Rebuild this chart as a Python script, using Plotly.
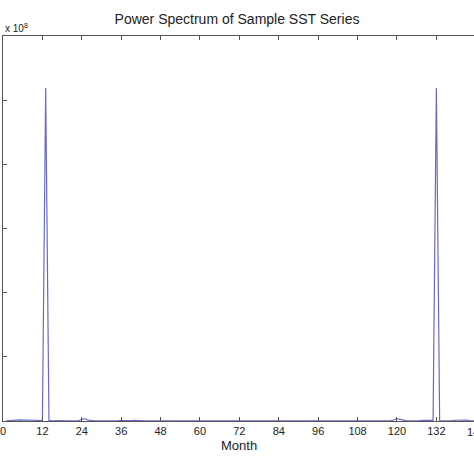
import plotly.graph_objects as go

# Month index (1..144) and spectral power in units of 1e8
months = list(range(1, 145))
power_e8 = [
    0.002, 0.003, 0.008, 0.015, 0.018, 0.016, 0.012, 0.006, 0.004, 0.003,
    0.004, 0.008, 5.19, 0.010, 0.004, 0.008, 0.012, 0.006, 0.002, 0.002,
    0.003, 0.002, 0.008, 0.025, 0.035, 0.015, 0.004, 0.002, 0.002, 0.001,
    0.002, 0.002, 0.003, 0.004, 0.006, 0.008, 0.004, 0.002, 0.006, 0.010,
    0.005, 0.002, 0.001, 0.002, 0.002, 0.001, 0.002, 0.003, 0.002, 0.001,
    0.002, 0.003, 0.004, 0.006, 0.009, 0.006, 0.003, 0.002, 0.001, 0.002,
    0.002, 0.001, 0.002, 0.002, 0.001, 0.002, 0.002, 0.001, 0.002, 0.001,
    0.002, 0.001, 0.001, 0.002, 0.001, 0.002, 0.002, 0.001, 0.002, 0.002,
    0.001, 0.002, 0.001, 0.002, 0.002, 0.001, 0.002, 0.003, 0.006, 0.009,
    0.006, 0.004, 0.003, 0.002, 0.001, 0.002, 0.002, 0.001, 0.002, 0.003,
    0.002, 0.001, 0.002, 0.005, 0.010, 0.006, 0.002, 0.004, 0.008, 0.006,
    0.004, 0.003, 0.002, 0.002, 0.001, 0.002, 0.002, 0.004, 0.015, 0.035,
    0.025, 0.008, 0.002, 0.003, 0.002, 0.002, 0.006, 0.012, 0.008, 0.004,
    0.010, 5.19, 0.008, 0.004, 0.003, 0.004, 0.006, 0.012, 0.016, 0.018,
    0.015, 0.008, 0.003, 0.002,
]
x_ticks = [0, 12, 24, 36, 48, 60, 72, 84, 96, 108, 120, 132]
x_tick_text = ["0", "12", "24", "36", "48", "60", "72", "84", "96", "108", "120", "132"]
y_ticks = [0, 1e8, 2e8, 3e8, 4e8, 5e8, 6e8]

power = [p * 1e8 for p in power_e8]

fig = go.Figure()
fig.add_trace(go.Scatter(x=months, y=power, mode="lines",
                         line=dict(color="#6a6ac6", width=1.2),
                         showlegend=False, hoverinfo="skip"))

axis_col = "#555555"
font = "Liberation Sans, Arial, sans-serif"

fig.update_layout(
    width=474, height=474,
    margin=dict(l=3, r=0, t=36, b=53),
    paper_bgcolor="white", plot_bgcolor="white",
    font=dict(family=font, color="#222222"),
    title=dict(text="Power Spectrum of Sample SST Series",
               x=0.5, xref="container", xanchor="center",
               y=1 - 19 / 474, yref="container", yanchor="middle",
               font=dict(size=14, family=font, color="#222222")),
    xaxis=dict(range=[0, 471 / 3.283], tickvals=x_ticks, ticktext=x_tick_text,
               ticks="inside", ticklen=4, tickcolor=axis_col,
               showline=True, linecolor=axis_col, linewidth=1,
               mirror="ticks", showgrid=False, zeroline=False,
               ticklabeloverflow="allow",
               tickfont=dict(size=11, family=font, color="#222222")),
    yaxis=dict(range=[0, 6e8], tickvals=y_ticks,
               ticks="inside", ticklen=4, tickcolor=axis_col,
               showline=True, linecolor=axis_col, linewidth=1,
               mirror=False, showgrid=False, zeroline=False,
               showticklabels=False),
)

fig.add_annotation(text="Month", xref="paper", yref="paper",
                   x=0.5, y=-(446 - 421) / 385, xanchor="center", yanchor="middle",
                   showarrow=False, font=dict(size=13, family=font, color="#222222"))
fig.add_annotation(text="x 10<sup>8</sup>", xref="paper", yref="paper",
                   x=0, y=(421 - 28) / 385, xanchor="left", yanchor="middle",
                   showarrow=False, font=dict(size=10, family=font, color="#222222"))
fig.add_annotation(text="144", xref="paper", yref="paper",
                   x=(476 - 3) / 471, y=-(432 - 421) / 385, xanchor="center", yanchor="middle",
                   showarrow=False, font=dict(size=11, family=font, color="#222222"))

fig.write_html("out.html", config={"displayModeBar": False},
               post_script="document.body.style.margin='0';")
